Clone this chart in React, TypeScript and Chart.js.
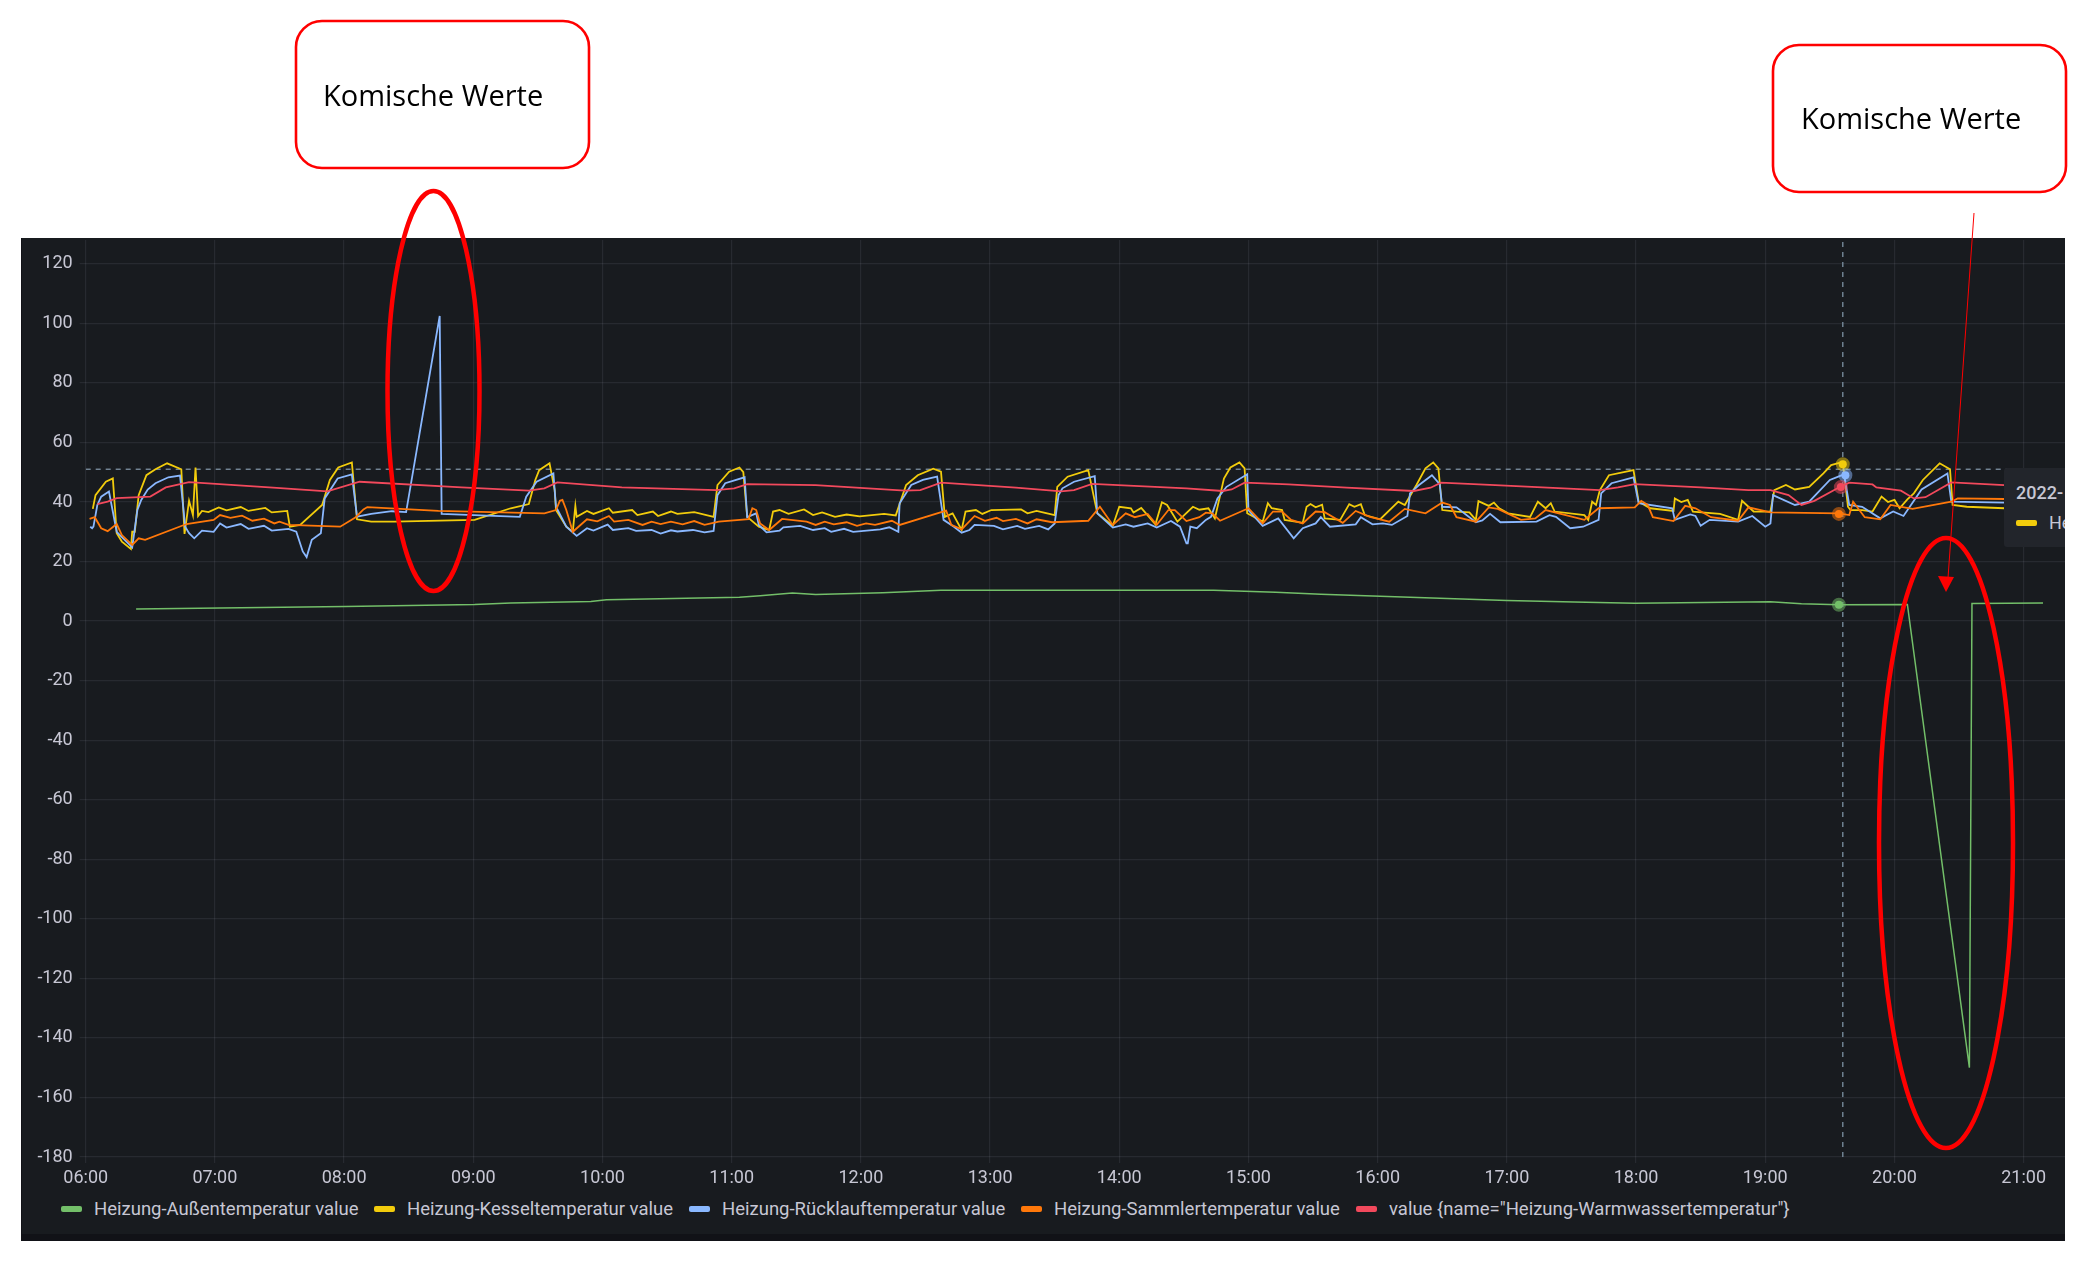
import { useEffect, useRef } from "react";
import { Chart, registerables } from "chart.js";

Chart.register(...registerables);

type Sample = [number, number];

// samples are [hour of day, temperature]
const aussen: Sample[] = [
  [6.39, 4.1], [8.01, 4.9], [9.01, 5.6], [9.29, 6.1], [9.91, 6.6], [10.03, 7.2], [11.06, 8], [11.22, 8.5],
  [11.47, 9.4], [11.65, 8.9], [12.17, 9.5], [12.62, 10.4], [14.73, 10.4], [15.21, 9.7], [15.56, 9], [16.48, 7.7],
  [17, 6.9], [17.52, 6.4], [17.99, 6], [19.04, 6.5], [19.28, 5.8], [19.57, 5.5], [20.1, 5.6], [20.58, -150],
  [20.6, 5.9], [21.15, 6.1],
];

const kessel: Sample[] = [
  [6.055, 37.7], [6.076, 42.3], [6.156, 46.8], [6.21, 47.9], [6.24, 29.5], [6.28, 26.7], [6.35, 24.2], [6.36, 30],
  [6.38, 30], [6.41, 42.3], [6.47, 49], [6.54, 51], [6.63, 53], [6.74, 51], [6.765, 29.3], [6.8, 40.4], [6.83, 35.6],
  [6.85, 51.6], [6.87, 35.3], [6.9, 37], [6.95, 36.6], [7.03, 38.2], [7.09, 37.2], [7.2, 38.3], [7.26, 37], [7.39, 38],
  [7.44, 36.5], [7.56, 37], [7.58, 31.7], [7.66, 32.3], [7.83, 39], [7.89, 47.4], [7.955, 51.6], [8.06, 53.3],
  [8.1, 34.2], [8.21, 33.4], [8.39, 33.4], [9.01, 34], [9.29, 37.9], [9.43, 39.3], [9.48, 47.4], [9.51, 50.7],
  [9.59, 53], [9.63, 44], [9.64, 37.3], [9.72, 31.7], [9.77, 30], [9.79, 38.7], [9.8, 35], [9.88, 37], [9.93, 36],
  [10.05, 37.9], [10.08, 36.4], [10.23, 37.3], [10.27, 35.6], [10.39, 36.8], [10.43, 35.3], [10.53, 36.8], [10.58, 36],
  [10.71, 36.6], [10.86, 35], [10.89, 45.7], [10.98, 50.2], [11.06, 51.6], [11.09, 50], [11.12, 35], [11.21, 31.7],
  [11.29, 30.6], [11.32, 36.8], [11.37, 37.3], [11.44, 36], [11.56, 37.5], [11.63, 35.6], [11.7, 36.5], [11.8, 35],
  [11.89, 35.8], [11.99, 35.2], [12.18, 36], [12.27, 35.5], [12.35, 45.7], [12.44, 49], [12.56, 51.2], [12.62, 50.2],
  [12.65, 35], [12.71, 36.2], [12.78, 30.6], [12.81, 36.8], [12.89, 37.3], [12.94, 36], [13.01, 37.3], [13.24, 37.5],
  [13.29, 36.2], [13.36, 37], [13.5, 35.6], [13.52, 45.1], [13.6, 48.5], [13.76, 50.7], [13.83, 36.2], [13.95, 32],
  [14, 38.4], [14.09, 37.9], [14.11, 36.5], [14.17, 38], [14.28, 32.5], [14.33, 39.9], [14.37, 39], [14.45, 33.4],
  [14.57, 38.4], [14.62, 37.4], [14.69, 37.9], [14.74, 34.5], [14.81, 47.9], [14.86, 51.6], [14.93, 53.3], [14.97, 51.3],
  [14.99, 36.2], [15.11, 33.4], [15.15, 39.6], [15.18, 37.9], [15.26, 37.3], [15.28, 34], [15.42, 33], [15.45, 38.4],
  [15.48, 39.3], [15.52, 38.2], [15.57, 39.1], [15.59, 34.5], [15.71, 34], [15.78, 39.3], [15.82, 38.4], [15.87, 39.3],
  [15.9, 35.6], [16.02, 34.2], [16.16, 40.1], [16.21, 39], [16.3, 45.7], [16.37, 51.3], [16.43, 53.3], [16.47, 51.3],
  [16.5, 37.3], [16.61, 36.8], [16.71, 36.5], [16.76, 34], [16.78, 40.3], [16.86, 38.7], [16.9, 39.8], [16.94, 37.9],
  [17.01, 36.2], [17.18, 35], [17.24, 40.1], [17.3, 37.9], [17.34, 39.6], [17.37, 36.8], [17.6, 35.6], [17.63, 34],
  [17.66, 40.1], [17.69, 39], [17.72, 44], [17.79, 49], [17.98, 50.7], [18.02, 40.1], [18.11, 37.9], [18.29, 37],
  [18.3, 41.2], [18.35, 40], [18.4, 40.7], [18.44, 36.8], [18.65, 36], [18.79, 34], [18.82, 40.4], [18.91, 36.8],
  [19.04, 36.8], [19.07, 44], [19.16, 45.7], [19.23, 44.2], [19.34, 45.1], [19.45, 49.6], [19.51, 52.4], [19.6, 53.5],
  [19.64, 38.4], [19.66, 37.3], [19.75, 37.3], [19.83, 36.8], [19.9, 41.8], [19.95, 40], [20, 40.7], [20.04, 37.9],
  [20.1, 40.9], [20.15, 42.9], [20.22, 47.4], [20.35, 53], [20.43, 51], [20.45, 39], [20.56, 38.4], [20.85, 37.9],
  [21.15, 37.4],
];

const ruecklauf: Sample[] = [
  [6.035, 31.7], [6.05, 31.2], [6.06, 31.7], [6.09, 39], [6.12, 41.8], [6.18, 43.5], [6.24, 30], [6.28, 28.2],
  [6.36, 24.8], [6.4, 37.3], [6.43, 40.7], [6.48, 44.2], [6.54, 46.3], [6.64, 48.3], [6.73, 48.9], [6.77, 31.7],
  [6.8, 29.5], [6.84, 27.8], [6.9, 30.4], [6.99, 30], [7.04, 32.8], [7.09, 31.4], [7.2, 32.6], [7.26, 31], [7.38, 32],
  [7.44, 30.4], [7.57, 31], [7.63, 30], [7.68, 23.4], [7.71, 21.5], [7.75, 27.3], [7.82, 29.5], [7.85, 41.2],
  [7.95, 47.9], [8.06, 49.3], [8.1, 35.1], [8.21, 36], [8.37, 36.9], [8.48, 36.6], [8.74, 102.5], [8.755, 36],
  [9.36, 35], [9.41, 41.8], [9.49, 46.8], [9.62, 49.6], [9.64, 38.4], [9.72, 31.7], [9.8, 28.6], [9.88, 31.2],
  [9.93, 30.4], [10.04, 32.4], [10.08, 30.6], [10.2, 31.2], [10.26, 30.3], [10.38, 30.6], [10.45, 29.4], [10.53, 30.5],
  [10.58, 30.1], [10.7, 30.6], [10.79, 29.8], [10.86, 30.3], [10.89, 42.3], [10.95, 46.3], [11.1, 48.3], [11.12, 34.9],
  [11.19, 36.2], [11.21, 32.3], [11.27, 29.8], [11.37, 30.4], [11.4, 31.5], [11.53, 32], [11.63, 30.6], [11.72, 31.2],
  [11.77, 30], [11.87, 31], [11.94, 30], [12.15, 30.8], [12.22, 31.5], [12.29, 30], [12.3, 39.6], [12.39, 45.7],
  [12.48, 47.4], [12.59, 48.5], [12.64, 34], [12.72, 31.7], [12.78, 29.7], [12.84, 30.6], [12.88, 32.3], [13.03, 32],
  [13.1, 30.8], [13.21, 32], [13.27, 31], [13.38, 32], [13.45, 30.8], [13.5, 32.8], [13.53, 42.3], [13.56, 44.6],
  [13.65, 46.8], [13.81, 48.7], [13.83, 36.2], [13.95, 31.4], [14.05, 32.5], [14.11, 31.7], [14.22, 32.8], [14.29, 31.4],
  [14.4, 33.6], [14.47, 31.7], [14.52, 26.1], [14.53, 26.1], [14.55, 31.7], [14.6, 31.2], [14.67, 34], [14.71, 35],
  [14.76, 41.2], [14.83, 45.1], [14.99, 49.3], [15, 37.3], [15.11, 32], [15.23, 34.5], [15.35, 27.8], [15.42, 31.2],
  [15.52, 32.8], [15.56, 34.9], [15.63, 31.7], [15.83, 32.5], [15.87, 34.9], [15.96, 32.5], [16.04, 32.8], [16.11, 32.3],
  [16.23, 35.3], [16.25, 42.9], [16.32, 45.7], [16.42, 49], [16.48, 46], [16.5, 38.4], [16.61, 38.2], [16.76, 33.2],
  [16.81, 33.8], [16.87, 36], [16.95, 33.2], [17.23, 33.4], [17.33, 35.6], [17.38, 35], [17.49, 31.2], [17.59, 31.7],
  [17.71, 34], [17.73, 42.9], [17.81, 46.3], [17.98, 48.3], [18.02, 39.6], [18.28, 37.9], [18.3, 34], [18.42, 35.8],
  [18.46, 35.3], [18.5, 32], [18.57, 34], [18.79, 33.4], [18.9, 35.3], [19, 31.7], [19.04, 32.8], [19.06, 42.3],
  [19.23, 39], [19.34, 40.1], [19.5, 47.4], [19.61, 49.3], [19.65, 39], [19.75, 38.4], [19.89, 34.5], [19.99, 36.8],
  [20.07, 35.3], [20.21, 44.2], [20.41, 49.6], [20.44, 40.1], [20.85, 39.8], [21.15, 39.4],
];

const sammler: Sample[] = [
  [6.03, 34.3], [6.07, 34.9], [6.12, 31.2], [6.17, 30.2], [6.24, 32.6], [6.28, 28.9], [6.36, 25.6], [6.41, 27.8],
  [6.46, 27.3], [6.78, 32.6], [6.99, 34], [7.04, 35.6], [7.12, 34.7], [7.21, 35.4], [7.29, 33.7], [7.38, 34.4],
  [7.46, 32.8], [7.5, 33.4], [7.57, 32.3], [7.97, 31.7], [8.09, 34.9], [8.15, 37.5], [8.18, 38.3], [8.73, 37],
  [9.55, 36.2], [9.64, 37.3], [9.67, 40.4], [9.69, 40.7], [9.72, 37.3], [9.77, 30], [9.88, 34.2], [9.96, 33.5],
  [10.05, 35.3], [10.09, 33.4], [10.2, 34], [10.31, 32.3], [10.38, 33.4], [10.45, 32.6], [10.53, 33.4], [10.62, 32.5],
  [10.71, 33.6], [10.79, 32.3], [10.9, 33.4], [11.13, 34.2], [11.16, 37.9], [11.19, 37.3], [11.22, 32.8], [11.29, 30.6],
  [11.39, 34.3], [11.58, 33.4], [11.65, 32.3], [11.72, 33.4], [11.79, 32.5], [11.89, 33.2], [11.97, 32], [12.04, 32.8],
  [12.11, 32.3], [12.24, 33.7], [12.3, 32.3], [12.66, 37.1], [12.7, 32.3], [12.78, 30.8], [12.88, 35.3], [12.96, 33.7],
  [13.05, 34.7], [13.1, 33.6], [13.2, 34.3], [13.29, 32.8], [13.36, 34.2], [13.48, 33.2], [13.76, 33.7], [13.85, 38.4],
  [13.95, 32.3], [14.05, 36.2], [14.12, 34.9], [14.22, 36], [14.29, 32.3], [14.38, 37.3], [14.43, 37.3], [14.52, 33.6],
  [14.62, 34.9], [14.67, 36.4], [14.72, 36.2], [14.78, 33.7], [15, 37.9], [15.11, 32.8], [15.19, 36.8], [15.26, 36.8],
  [15.33, 34], [15.42, 32.8], [15.52, 36.8], [15.59, 36.6], [15.73, 33], [15.83, 37], [15.94, 35], [16.09, 33.4],
  [16.21, 37.7], [16.37, 36.2], [16.5, 39.8], [16.56, 39], [16.61, 34.9], [16.76, 33.4], [16.86, 38.2], [16.93, 37.7],
  [17.11, 34], [17.22, 34.5], [17.3, 37.3], [17.6, 34], [17.71, 37.9], [17.99, 38.2], [18.04, 40.4], [18.09, 39],
  [18.13, 34.9], [18.29, 33.6], [18.38, 38.7], [18.46, 37.9], [18.58, 34.9], [18.79, 33.7], [18.87, 38.2], [19.04, 36.5],
  [19.57, 36.2], [19.65, 35.6], [19.68, 40.1], [19.77, 34.9], [19.89, 34.2], [19.97, 39], [20.14, 37.7], [20.44, 40.1],
  [20.49, 41.2], [20.85, 41], [21.15, 40.6],
];

const warmwasser: Sample[] = [
  [6.09, 39.3], [6.17, 40.1], [6.24, 41.3], [6.5, 41.8], [6.62, 44.9], [6.8, 46.7], [7.45, 44.8], [7.87, 43.6],
  [8.12, 46.8], [8.91, 44.9], [9.43, 43.8], [9.55, 44.6], [9.65, 46.6], [10.15, 44.9], [10.88, 44], [11.02, 44.6],
  [11.12, 46], [11.65, 45.7], [12.34, 43.8], [12.46, 44], [12.62, 46.5], [13.2, 44.8], [13.55, 43.6], [13.65, 44],
  [13.79, 46.1], [14.52, 44.6], [14.8, 43.7], [14.87, 44.2], [14.97, 46.5], [15.31, 45.9], [15.76, 44.8], [16.28, 43.7],
  [16.41, 44.8], [16.49, 46.5], [16.91, 45.7], [17.72, 44], [17.86, 44.9], [17.99, 46], [18.5, 44.9], [18.87, 44],
  [19.04, 44], [19.18, 42.3], [19.28, 39], [19.38, 40.4], [19.58, 45.1], [19.65, 46.5], [19.83, 45.9], [19.86, 44.9],
  [20.05, 43.8], [20.15, 41.2], [20.24, 41.6], [20.44, 46.6], [20.85, 45.7], [21.15, 44.9],
];

const seriesNames = [
  "Heizung-Außentemperatur value",
  "Heizung-Kesseltemperatur value",
  "Heizung-Rücklauftemperatur value",
  "Heizung-Sammlertemperatur value",
  'value {name="Heizung-Warmwassertemperatur"}',
];
const seriesColors = ["#73bf69", "#f2cc0c", "#8ab8ff", "#ff780a", "#f2495c"];
const seriesValues = [aussen, kessel, ruecklauf, sammler, warmwasser];

// hover state in the screenshot
const hoverTimes = [19.57, 19.6, 19.62, 19.585, 19.57];
const hoverValues = [5.5, 52.7, 49, 45, 36];
const hoverColors = ["#73bf69", "#f2cc0c", "#8ab8ff", "#f2495c", "#ff780a"];
const crosshairTime = 19.6;
const crosshairValue = 51;

const callouts = [
  { x: 296, y: 21, w: 293, h: 147, tx: 323, ty: 106 },
  { x: 1773, y: 45, w: 293, h: 147, tx: 1801, ty: 129 },
];

function toPoints(list: Sample[]) {
  return list.map(([x, y]) => ({ x, y }));
}

function TempChart() {
  const canvasRef = useRef<HTMLCanvasElement>(null);

  useEffect(() => {
    if (!canvasRef.current) return;
    const gridColor = "rgba(204,204,220,0.09)";
    const tickFont = { family: "Roboto", size: 18 };
    const crossStyle = { borderColor: "#76899a", borderWidth: 1.4, borderDash: [5, 5], pointRadius: 0 };
    const xMin = 6;
    const xMax = 21.32;
    const yMin = -180;
    const yMax = 128;

    const chart = new Chart(canvasRef.current, {
      type: "line",
      data: {
        datasets: [
          {
            data: hoverTimes.map((x, i) => ({ x, y: hoverValues[i] })),
            showLine: false,
            pointRadius: 4,
            pointBorderWidth: 6,
            pointBackgroundColor: hoverColors,
            pointBorderColor: hoverColors.map((c) => `${c}80`),
            order: -10,
          },
          ...seriesValues.map((list, i) => ({
            label: seriesNames[i],
            data: toPoints(list),
            borderColor: seriesColors[i],
            borderWidth: i === 0 ? 1.5 : 1.8,
            pointRadius: 0,
            tension: 0,
            order: -i,
          })),
          { data: [{ x: xMin, y: crosshairValue }, { x: xMax, y: crosshairValue }], ...crossStyle, order: 5 },
          { data: [{ x: crosshairTime, y: yMin }, { x: crosshairTime, y: yMax }], ...crossStyle, order: 5 },
        ],
      },
      options: {
        responsive: false,
        animation: false,
        events: [],
        layout: { autoPadding: false, padding: { top: 2, right: 0, left: 0, bottom: 0 } },
        scales: {
          x: {
            type: "linear",
            min: xMin,
            max: xMax,
            afterFit: (scale) => {
              scale.height = 32;
              scale.paddingLeft = 0;
              scale.paddingRight = 0;
            },
            ticks: {
              stepSize: 1,
              includeBounds: false,
              autoSkip: false,
              maxRotation: 0,
              color: "#c7c7d4",
              font: tickFont,
              padding: 5,
              callback: (v) => `${String(v).padStart(2, "0")}:00`,
            },
            grid: { color: gridColor, lineWidth: 1.2, tickLength: 6 },
            border: { display: false },
          },
          y: {
            min: yMin,
            max: yMax,
            afterFit: (scale) => {
              scale.width = 64.7;
              scale.paddingTop = 0;
              scale.paddingBottom = 0;
            },
            ticks: { stepSize: 20, includeBounds: false, color: "#c7c7d4", font: tickFont, padding: 7 },
            grid: { color: gridColor, lineWidth: 1.2, tickLength: 6 },
            border: { display: false },
          },
        },
        plugins: { legend: { display: false }, tooltip: { enabled: false } },
      },
    });

    return () => {
      chart.destroy();
    };
  }, []);

  return <canvas ref={canvasRef} width={2044} height={951} style={{ display: "block" }} />;
}

export default function App() {
  return (
    <div style={{ position: "fixed", left: 0, top: 0, width: 2084, height: 1263, background: "#fff", overflow: "hidden" }}>
      <div style={{ position: "absolute", left: 21, top: 238, width: 2044, height: 1003, background: "#111217", overflow: "hidden" }}>
        <div style={{ position: "absolute", left: 1, top: 0, width: 2043, height: 996, background: "#181b1f" }} />
        <div style={{ position: "absolute", left: 0, top: 0 }}>
          <TempChart />
        </div>

        {/* legend */}
        {seriesNames.map((name, i) => (
          <div
            key={name}
            style={{
              position: "absolute",
              left: [40, 353, 668, 1000, 1335][i],
              top: 960,
              display: "flex",
              alignItems: "center",
              whiteSpace: "nowrap",
              font: "18.5px Roboto",
              color: "#c7c7d4",
              height: 22,
            }}
          >
            <span style={{ width: 21, height: 6, borderRadius: 2, background: seriesColors[i], marginRight: 12 }} />
            {name}
          </div>
        ))}

        {/* clipped hover tooltip */}
        <div style={{ position: "absolute", left: 1983, top: 230, width: 140, height: 79, background: "#22252b", borderRadius: 3 }}>
          <div style={{ position: "absolute", left: 12, top: 14, font: "500 18px Roboto", color: "#c7c7d4", whiteSpace: "nowrap" }}>2022-</div>
          <span style={{ position: "absolute", left: 12, top: 52, width: 21, height: 6, borderRadius: 2, background: "#f2cc0c" }} />
          <div style={{ position: "absolute", left: 45, top: 44, font: "18px Roboto", color: "#c7c7d4", whiteSpace: "nowrap" }}>{seriesNames[1]}</div>
        </div>
      </div>

      {/* annotations drawn on top of the screenshot */}
      <svg width={2084} height={1263} style={{ position: "absolute", left: 0, top: 0, pointerEvents: "none" }}>
        {callouts.map((c) => (
          <g key={c.x}>
            <rect x={c.x} y={c.y} width={c.w} height={c.h} rx={26} fill="#fff" stroke="#ff0000" strokeWidth={2.6} />
            <text x={c.tx} y={c.ty} fontFamily="Open Sans" fontSize={29} fill="#000">
              Komische Werte
            </text>
          </g>
        ))}
        <ellipse cx={433.5} cy={391} rx={46} ry={200} fill="none" stroke="#ff0000" strokeWidth={4.5} />
        <ellipse cx={1946} cy={843} rx={67} ry={305} fill="none" stroke="#ff0000" strokeWidth={4.5} />
        <line x1={1974} y1={213} x2={1948} y2={578} stroke="#ff0000" strokeWidth={1} />
        <polygon points="1938,576 1954,577 1946,592" fill="#ff0000" />
      </svg>
    </div>
  );
}
